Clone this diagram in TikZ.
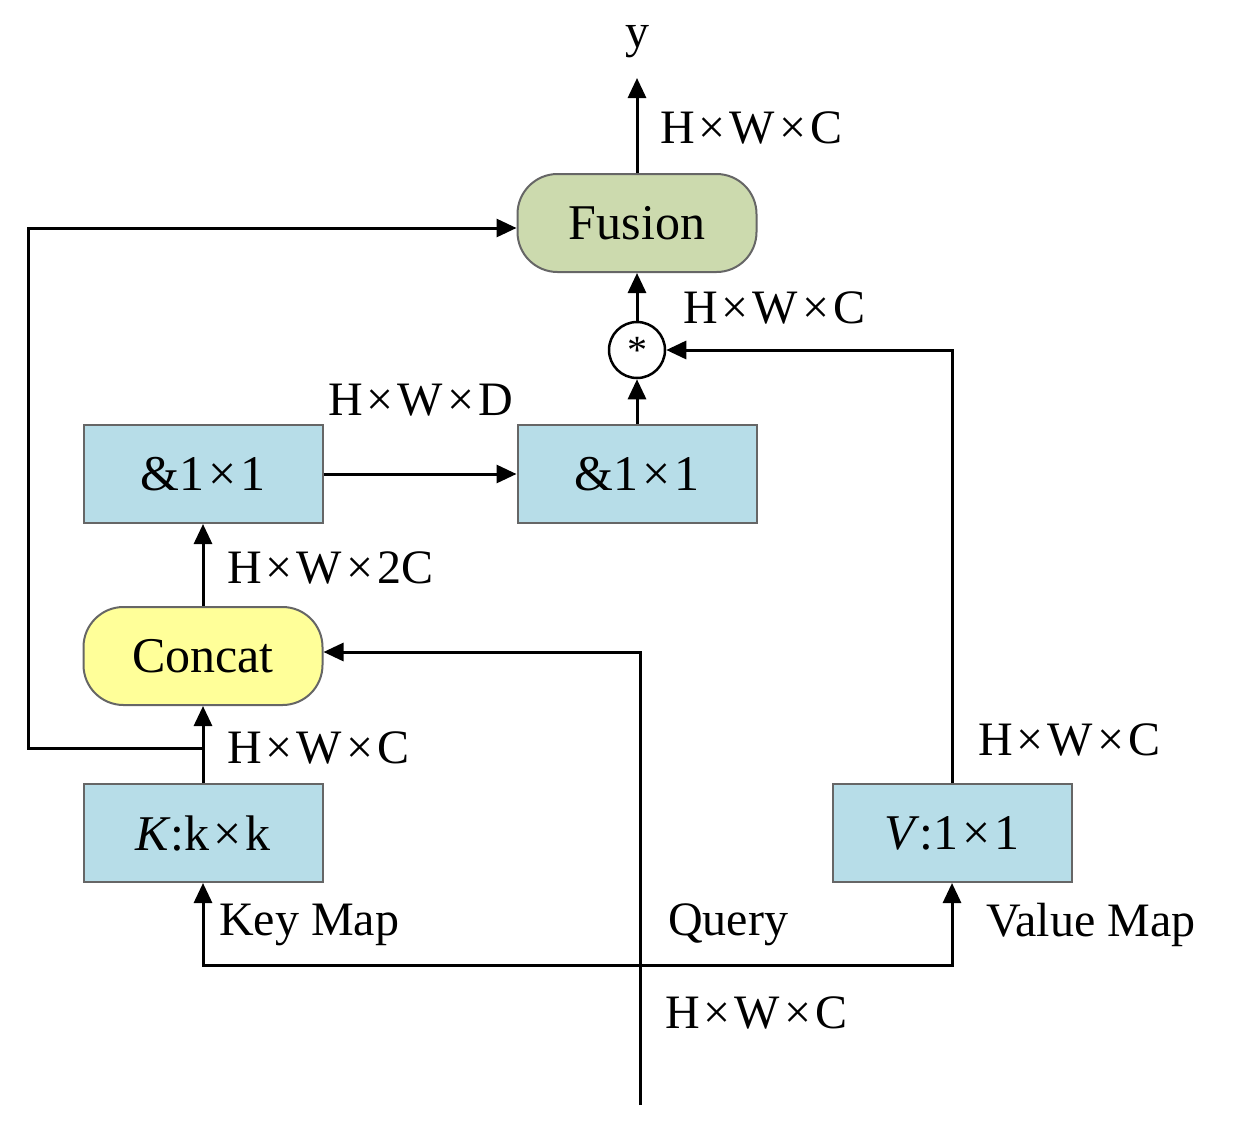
\documentclass[tikz,border=0pt]{standalone}
\usepackage{fontspec}
\setmainfont{Liberation Serif}
\usetikzlibrary{arrows.meta}
\newcommand{\tms}{\hspace{4pt}×\hspace{4pt}}
\begin{document}
\begin{tikzpicture}[x=1pt,y=-1pt,
  box/.style={draw=gray!80!black,line width=2pt,fill=box,minimum width=239pt,minimum height=98pt,inner sep=0pt,font=\fontsize{50}{54}\selectfont},
  rbox/.style={box,rounded corners=40pt},
  lab/.style={font=\fontsize{48}{52}\selectfont,inner sep=0pt},
  arr/.style={line width=3pt,-{Triangle[length=20pt,width=18pt]}},
  ln/.style={line width=3pt}]
\definecolor{box}{HTML}{B7DDE8}
\definecolor{fus}{HTML}{CCDAAE}
\definecolor{cat}{HTML}{FFFF99}
\useasboundingbox (0,0) rectangle (1236,1122);
\node[rbox,fill=fus] (fusion) at (637,223) {Fusion};
\node[draw,line width=2.5pt,circle,minimum size=56pt,inner sep=0pt,fill=white,font=\fontsize{40}{40}\selectfont] (mul) at (637,350) {*};
\node[box] (b2) at (637,474) {\&1\tms1};
\node[box] (b1) at (203,474) {\&1\tms1};
\node[rbox,fill=cat] (concat) at (203,656) {Concat};
\node[box] (K) at (203,833) {\textit{K}:k\tms k};
\node[box] (V) at (952,833) {\textit{V}:1\tms1};
\coordinate (yout) at (637,78);
\coordinate (kv) at (578,965);
\coordinate (q) at (640,1105);
\node[lab] (y) at (637,42) {y};
\draw[arr] (fusion.north) -- (yout);
\draw[arr] (mul.north) -- (fusion.south);
\draw[arr] (b2.north) -- (mul.south);
\draw[arr] (b1.east) -- (b2.west);
\draw[arr] (concat.north) -- (b1.south);
\draw[arr] (K.north) -- (concat.south);
\draw[arr] (203,748) -- (28,748) -- (28,228) -- (fusion.west|-0,228);
\draw[arr] (q) -- (640,652) -- (concat.east|-0,652);
\draw[arr] (V.north) -- (952,350) -- (mul.east);
\draw[arr] (kv) -| (K.south);
\draw[arr] (kv) -| (V.south);
\node[lab,anchor=west] at (660,128) {H\tms W\tms C};
\node[lab,anchor=west] at (683,308) {H\tms W\tms C};
\node[lab,anchor=west] at (328,400) {H\tms W\tms D};
\node[lab,anchor=west] at (227,568) {H\tms W\tms 2C};
\node[lab,anchor=west] at (227,748) {H\tms W\tms C};
\node[lab,anchor=west] at (978,740) {H\tms W\tms C};
\node[lab,anchor=west] at (219,925) {Key Map};
\node[lab,anchor=west] at (668,925) {Query};
\node[lab,anchor=west] at (986,925) {Value Map};
\node[lab,anchor=west] at (665,1013) {H\tms W\tms C};
\end{tikzpicture}
\end{document}
